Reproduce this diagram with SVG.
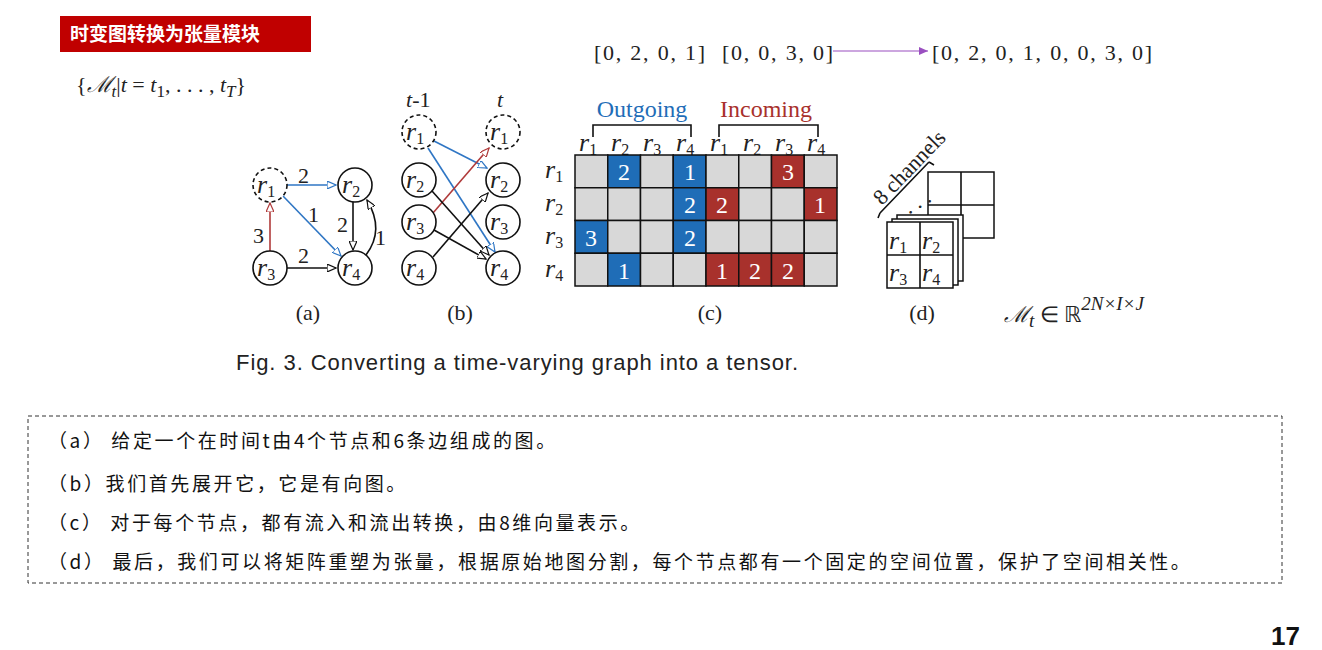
<svg xmlns="http://www.w3.org/2000/svg" width="1322" height="650" viewBox="0 0 1322 650">
<style>
.m{font-family:"Liberation Serif",serif;font-size:22px;fill:#222}
.L{font-size:26px}
.i{font-style:italic}
.s{font-size:16px;font-style:normal}
.n{fill:#fff;stroke:#111;stroke-width:1.6}
.d{stroke-dasharray:4,3}
.e{stroke:#111;stroke-width:1.6;fill:none}
.b{stroke:#2f76c4;stroke-width:1.6;fill:none}
.r{stroke:#b03a3a;stroke-width:1.6;fill:none}
.g{fill:#d8d8d8;stroke:#111;stroke-width:1.5}
.cb{fill:#1f6db7;stroke:#111;stroke-width:1.5}
.cr{fill:#a8312c;stroke:#111;stroke-width:1.5}
.w{font-family:"Liberation Serif",serif;font-size:24px;fill:#fff;text-anchor:middle}
.cn{font-family:"Noto Sans CJK SC",sans-serif;font-size:19px;letter-spacing:2.6px;fill:#111}
</style>
<defs>
<marker id="ak" markerWidth="10" markerHeight="8" refX="9" refY="4" orient="auto" markerUnits="userSpaceOnUse"><path d="M0,0 L9,4 L0,8 Z" fill="#fff" stroke="#111" stroke-width="1.2"/></marker>
<marker id="ab" markerWidth="10" markerHeight="8" refX="9" refY="4" orient="auto" markerUnits="userSpaceOnUse"><path d="M0,0 L9,4 L0,8 Z" fill="#fff" stroke="#2f76c4" stroke-width="1.2"/></marker>
<marker id="ar" markerWidth="10" markerHeight="8" refX="9" refY="4" orient="auto" markerUnits="userSpaceOnUse"><path d="M0,0 L9,4 L0,8 Z" fill="#fff" stroke="#b03a3a" stroke-width="1.2"/></marker>
<marker id="ap" markerWidth="10" markerHeight="8" refX="9" refY="4" orient="auto" markerUnits="userSpaceOnUse"><path d="M0,0 L9,4 L0,8 Z" fill="#9a4fc0"/></marker>
</defs>
<rect width="1322" height="650" fill="#fff"/>
<g id="title"><rect x="60" y="16" width="251" height="36" fill="#c00000"/><text x="70" y="41" font-family="Noto Sans CJK SC,sans-serif" font-size="19" font-weight="bold" fill="#fff">时变图转换为张量模块</text></g>
<text class="m" x="76" y="92" font-size="26">{<tspan class="i">ℳ</tspan><tspan class="i" font-size="17" dy="5">t</tspan><tspan dy="-5">|</tspan><tspan class="i">t</tspan> = <tspan class="i">t</tspan><tspan font-size="17" dy="5">1</tspan><tspan dy="-5">, . . . , </tspan><tspan class="i">t</tspan><tspan class="i" font-size="17" dy="5">T</tspan><tspan dy="-5">}</tspan></text>
<text class="m" x="594" y="60" font-size="30" textLength="111">[0, 2, 0, 1]</text>
<text class="m" x="722" y="60" font-size="30" textLength="111">[0, 0, 3, 0]</text>
<text class="m" x="932" y="60" font-size="30" textLength="220">[0, 2, 0, 1, 0, 0, 3, 0]</text>
<g id="connectors">
<line x1="833" y1="51" x2="928" y2="51" stroke="#9a4fc0" stroke-width="1.2" marker-end="url(#ap)"/>
<line class="b" x1="287" y1="185" x2="336" y2="185" marker-end="url(#ab)"/>
<line class="b" x1="283" y1="196" x2="341" y2="256" marker-end="url(#ab)"/>
<line class="r" x1="270" y1="252" x2="270" y2="203" marker-end="url(#ar)"/>
<line class="e" x1="287" y1="268" x2="336" y2="268" marker-end="url(#ak)"/>
<line class="e" x1="353" y1="202" x2="353" y2="250" marker-end="url(#ak)"/>
<path class="e" d="M366,255 Q385,230 367,200" marker-end="url(#ak)"/>
<line class="b" x1="434" y1="141" x2="487" y2="168" marker-end="url(#ab)"/>
<line class="b" x1="428" y1="148" x2="495" y2="252" marker-end="url(#ab)"/>
<line class="r" x1="433" y1="213" x2="489" y2="148" marker-end="url(#ar)"/>
<line class="e" x1="432" y1="191" x2="489" y2="255" marker-end="url(#ak)"/>
<line class="e" x1="434" y1="230" x2="486" y2="259" marker-end="url(#ak)"/>
<line class="e" x1="433" y1="257" x2="488" y2="193" marker-end="url(#ak)"/>
</g>
<g class="m">
<text x="298" y="183">2</text><text x="308" y="222">1</text><text x="253" y="243">3</text><text x="298" y="263">2</text><text x="337" y="232">2</text><text x="375" y="245">1</text>
</g>
<g id="a-nodes" class="m L i">
<g id="a1"><circle class="n d" cx="270" cy="185" r="17"/><text x="257" y="193">r<tspan class="s" dy="4">1</tspan></text></g>
<g id="a2"><circle class="n" cx="355" cy="185" r="17"/><text x="342" y="193">r<tspan class="s" dy="4">2</tspan></text></g>
<g id="a3"><circle class="n" cx="270" cy="268" r="17"/><text x="257" y="276">r<tspan class="s" dy="4">3</tspan></text></g>
<g id="a4"><circle class="n" cx="355" cy="268" r="17"/><text x="342" y="276">r<tspan class="s" dy="4">4</tspan></text></g>
</g>
<text class="m i" x="406" y="107">t<tspan font-style="normal">-1</tspan></text>
<text class="m i" x="497" y="107">t</text>
<g id="b-nodes" class="m L i">
<g id="bl1"><circle class="n d" cx="419" cy="132" r="17"/><text x="406" y="140">r<tspan class="s" dy="4">1</tspan></text></g>
<g id="bl2"><circle class="n" cx="419" cy="180" r="17"/><text x="406" y="188">r<tspan class="s" dy="4">2</tspan></text></g>
<g id="bl3"><circle class="n" cx="419" cy="222" r="17"/><text x="406" y="230">r<tspan class="s" dy="4">3</tspan></text></g>
<g id="bl4"><circle class="n" cx="419" cy="268" r="17"/><text x="406" y="276">r<tspan class="s" dy="4">4</tspan></text></g>
<g id="br1"><circle class="n d" cx="503" cy="132" r="17"/><text x="490" y="140">r<tspan class="s" dy="4">1</tspan></text></g>
<g id="br2"><circle class="n" cx="503" cy="180" r="17"/><text x="490" y="188">r<tspan class="s" dy="4">2</tspan></text></g>
<g id="br3"><circle class="n" cx="503" cy="222" r="17"/><text x="490" y="230">r<tspan class="s" dy="4">3</tspan></text></g>
<g id="br4"><circle class="n" cx="503" cy="268" r="17"/><text x="490" y="276">r<tspan class="s" dy="4">4</tspan></text></g>
</g>
<g id="matrix">
<text x="642" y="117" font-family="Liberation Serif,serif" font-size="24" fill="#1f6db7" text-anchor="middle">Outgoing</text>
<text x="766" y="117" font-family="Liberation Serif,serif" font-size="24" fill="#a8312c" text-anchor="middle">Incoming</text>
<path class="e" d="M593,137 V125 H691 V137 M719,137 V125 H818 V137"/>
<g class="m L i">
<text x="579" y="151">r<tspan class="s" dy="4">1</tspan></text><text x="611" y="151">r<tspan class="s" dy="4">2</tspan></text><text x="643" y="151">r<tspan class="s" dy="4">3</tspan></text><text x="676" y="151">r<tspan class="s" dy="4">4</tspan></text>
<text x="710" y="151">r<tspan class="s" dy="4">1</tspan></text><text x="743" y="151">r<tspan class="s" dy="4">2</tspan></text><text x="775" y="151">r<tspan class="s" dy="4">3</tspan></text><text x="807" y="151">r<tspan class="s" dy="4">4</tspan></text>
<text x="545" y="178">r<tspan class="s" dy="4">1</tspan></text><text x="545" y="211">r<tspan class="s" dy="4">2</tspan></text><text x="545" y="244">r<tspan class="s" dy="4">3</tspan></text><text x="545" y="277">r<tspan class="s" dy="4">4</tspan></text>
</g>
<g>
<rect class="g" x="575" y="155" width="32.75" height="32.75"/><rect class="cb" x="607.75" y="155" width="32.75" height="32.75"/><rect class="g" x="640.5" y="155" width="32.75" height="32.75"/><rect class="cb" x="673.25" y="155" width="32.75" height="32.75"/><rect class="g" x="706" y="155" width="32.75" height="32.75"/><rect class="g" x="738.75" y="155" width="32.75" height="32.75"/><rect class="cr" x="771.5" y="155" width="32.75" height="32.75"/><rect class="g" x="804.25" y="155" width="32.75" height="32.75"/>
<rect class="g" x="575" y="187.75" width="32.75" height="32.75"/><rect class="g" x="607.75" y="187.75" width="32.75" height="32.75"/><rect class="g" x="640.5" y="187.75" width="32.75" height="32.75"/><rect class="cb" x="673.25" y="187.75" width="32.75" height="32.75"/><rect class="cr" x="706" y="187.75" width="32.75" height="32.75"/><rect class="g" x="738.75" y="187.75" width="32.75" height="32.75"/><rect class="g" x="771.5" y="187.75" width="32.75" height="32.75"/><rect class="cr" x="804.25" y="187.75" width="32.75" height="32.75"/>
<rect class="cb" x="575" y="220.5" width="32.75" height="32.75"/><rect class="g" x="607.75" y="220.5" width="32.75" height="32.75"/><rect class="g" x="640.5" y="220.5" width="32.75" height="32.75"/><rect class="cb" x="673.25" y="220.5" width="32.75" height="32.75"/><rect class="g" x="706" y="220.5" width="32.75" height="32.75"/><rect class="g" x="738.75" y="220.5" width="32.75" height="32.75"/><rect class="g" x="771.5" y="220.5" width="32.75" height="32.75"/><rect class="g" x="804.25" y="220.5" width="32.75" height="32.75"/>
<rect class="g" x="575" y="253.25" width="32.75" height="32.75"/><rect class="cb" x="607.75" y="253.25" width="32.75" height="32.75"/><rect class="g" x="640.5" y="253.25" width="32.75" height="32.75"/><rect class="g" x="673.25" y="253.25" width="32.75" height="32.75"/><rect class="cr" x="706" y="253.25" width="32.75" height="32.75"/><rect class="cr" x="738.75" y="253.25" width="32.75" height="32.75"/><rect class="cr" x="771.5" y="253.25" width="32.75" height="32.75"/><rect class="g" x="804.25" y="253.25" width="32.75" height="32.75"/>
</g>
<g class="w">
<text x="624" y="180">2</text><text x="690" y="180">1</text><text x="788" y="180">3</text>
<text x="690" y="213">2</text><text x="722" y="213">2</text><text x="820" y="213">1</text>
<text x="591" y="246">3</text><text x="690" y="246">2</text>
<text x="624" y="279">1</text><text x="722" y="279">1</text><text x="755" y="279">2</text><text x="788" y="279">2</text>
</g>
</g>
<g id="tensor">
<rect x="928" y="172" width="66" height="66" fill="#fff" stroke="#111" stroke-width="1.5"/>
<path class="e" d="M961,172 V238 M928,205 H994"/>
<rect x="897" y="215" width="66" height="66" fill="#fff" stroke="#111" stroke-width="1.5"/>
<rect x="892" y="219" width="66" height="66" fill="#fff" stroke="#111" stroke-width="1.5"/>
<rect x="887" y="222" width="66" height="66" fill="#fff" stroke="#111" stroke-width="1.5"/>
<path class="e" d="M920,222 V288 M887,255 H953"/>
<text class="m" x="906" y="212" font-size="16" transform="rotate(-30 912 208)">. . .</text>
<path class="e" d="M880,213 L878,218 M880,213 L929,162 M929,162 L934,165"/>
<text class="m" x="882" y="206" font-size="21" transform="rotate(-46 882 206)">8 channels</text>
<g class="m L i"><text x="889" y="249">r<tspan class="s" dy="4">1</tspan></text><text x="922" y="249">r<tspan class="s" dy="4">2</tspan></text><text x="889" y="281">r<tspan class="s" dy="4">3</tspan></text><text x="922" y="281">r<tspan class="s" dy="4">4</tspan></text></g>
</g>
<text class="m" x="1004" y="322" font-size="30"><tspan class="i">ℳ</tspan><tspan class="i" font-size="19" dy="5">t</tspan><tspan dy="-5"> ∈ ℝ</tspan><tspan class="i" font-size="19" dy="-12">2N×I×J</tspan></text>
<g class="m" text-anchor="middle"><text x="308" y="320">(a)</text><text x="460" y="320">(b)</text><text x="710" y="320">(c)</text><text x="922" y="320">(d)</text></g>
<text x="236" y="370" font-family="Liberation Sans,sans-serif" font-size="22" fill="#222" textLength="562">Fig. 3. Converting a time-varying graph into a tensor.</text>
<rect x="28" y="416" width="1254" height="167" fill="none" stroke="#333" stroke-dasharray="4,3"/>
<g id="notes" class="cn">
<text x="48" y="448">（a） 给定一个在时间t由4个节点和6条边组成的图。</text>
<text x="48" y="491">（b）我们首先展开它，它是有向图。</text>
<text x="48" y="530">（c） 对于每个节点，都有流入和流出转换，由8维向量表示。</text>
<text x="48" y="569">（d） 最后，我们可以将矩阵重塑为张量，根据原始地图分割，每个节点都有一个固定的空间位置，保护了空间相关性。</text>
</g>
<text x="1300" y="645" font-family="Liberation Sans,sans-serif" font-size="26" font-weight="bold" text-anchor="end" fill="#111">17</text>
</svg>
